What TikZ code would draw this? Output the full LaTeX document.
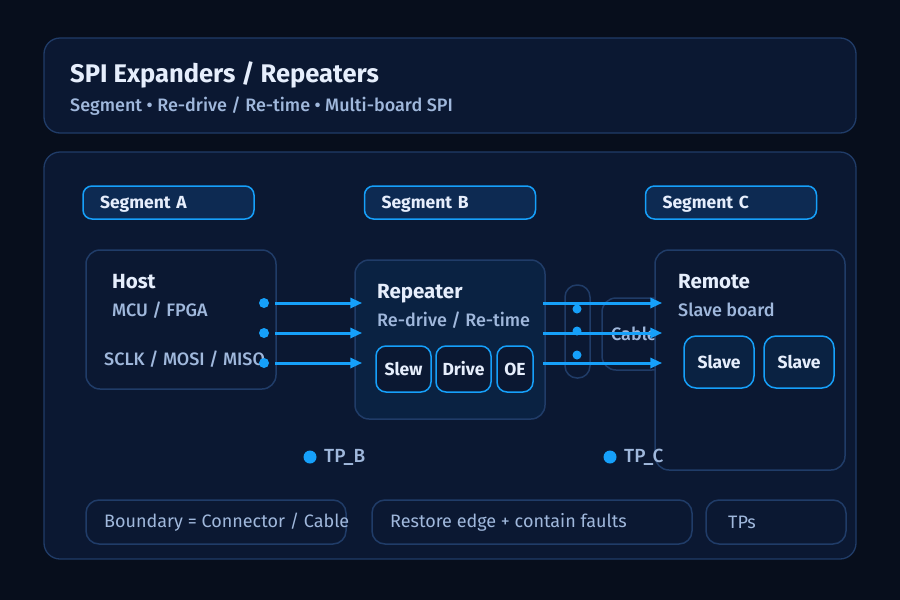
\documentclass[tikz,border=0pt]{standalone}
\usepackage{fontspec}
\setmainfont{Fira Sans}
\newfontfamily\medfont{Fira Sans Medium}
\usetikzlibrary{arrows.meta}
\definecolor{bg}{RGB}{7,14,28}
\definecolor{panel}{RGB}{11,24,50}
\definecolor{edge}{RGB}{32,60,104}
\definecolor{accent}{RGB}{22,160,250}
\definecolor{pillfill}{RGB}{13,42,82}
\definecolor{repfill}{RGB}{10,34,66}
\definecolor{txt}{RGB}{230,238,252}
\definecolor{muted}{RGB}{160,184,220}
\tikzset{
  panelbox/.style={draw=edge, line width=1.3pt, fill=panel, rounded corners=16pt, inner sep=0pt},
  box/.style={draw=edge, line width=1.5pt, fill=panel, rounded corners=14pt, inner sep=0pt},
  seg/.style={draw=accent, line width=1.5pt, fill=pillfill, rounded corners=9pt, inner xsep=17pt, inner ysep=0pt,
    minimum height=33pt, text width=137pt, text height=12.5pt, text depth=0pt, align=left, text=txt,
    font=\bfseries\fontsize{17.5}{20}\selectfont},
  chip/.style={draw=accent, line width=1.5pt, fill=panel, rounded corners=10pt, inner sep=0pt,
    text height=12.5pt, text depth=0pt, text=txt, font=\bfseries\fontsize{17.5}{20}\selectfont},
  lbl/.style={anchor=base west, inner sep=0pt},
  head/.style={lbl, text=txt, font=\bfseries\fontsize{20.5}{24}\selectfont},
  sub/.style={lbl, text=muted, font=\medfont\fontsize{18}{21}\selectfont},
  dot/.style={circle, fill=accent, inner sep=0pt, minimum size=10pt},
  arr/.style={draw=accent, line width=3pt, -{Triangle[length=12pt,width=10pt]}},
  foot/.style={draw=edge, line width=1.5pt, fill=panel, rounded corners=13pt, inner sep=0pt, minimum height=44pt},
  foottxt/.style={anchor=west, inner sep=0pt, text=muted, font=\fontsize{18}{21}\selectfont}
}
\begin{document}
\begin{tikzpicture}[x=1pt,y=-1pt]
\useasboundingbox (0,0) rectangle (900,600);
\fill[bg] (0,0) rectangle (900,600);

% title panel
\node[panelbox, minimum width=812pt, minimum height=95pt] (titlep) at (450,85.5) {};
\node[lbl, text=txt, font=\bfseries\fontsize{25.5}{30}\selectfont] (title) at (70,82) {SPI Expanders / Repeaters};
\node[lbl, text=muted, font=\medfont\fontsize{18}{21}\selectfont] (subtitle) at (70,111) {Segment • Re-drive / Re-time • Multi-board SPI};

% main panel
\node[panelbox, minimum width=812pt, minimum height=407pt] (mainp) at (450,355.5) {};

% segment pills
\node[seg] (segA) at (168.5,202.5) {Segment A};
\node[seg] (segB) at (450,202.5) {Segment B};
\node[seg] (segC) at (731,202.5) {Segment C};

% host
\node[box, minimum width=190pt, minimum height=139pt] (host) at (181,319.5) {};
\node[head] (hostT) at (112,288) {Host};
\node[sub] (hostS) at (112,316) {MCU / FPGA};
\node[sub] (hostL) at (104,365) {SCLK / MOSI / MISO};
\node[dot] (h1) at (264,303) {};
\node[dot] (h2) at (264,333) {};
\node[dot] (h3) at (264,363) {};

% repeater
\node[box, fill=repfill, minimum width=190pt, minimum height=159pt] (rep) at (450,339.5) {};
\node[head] (repT) at (377,298) {Repeater};
\node[sub] (repS) at (377,326) {Re-drive / Re-time};
\node[chip, minimum width=55pt, minimum height=46pt] (slew) at (403.5,369) {Slew};
\node[chip, minimum width=55pt, minimum height=46pt] (drive) at (463.5,369) {Drive};
\node[chip, minimum width=36pt, minimum height=46pt] (oe) at (515,369) {OE};

% connector and cable
\node[draw=edge, line width=1.5pt, rounded corners=12pt, minimum width=25pt, minimum height=93pt, inner sep=0pt] (conn) at (577.5,331.5) {};
\node[dot, minimum size=9pt] (c1) at (577,309) {};
\node[dot, minimum size=9pt] (c2) at (577,331) {};
\node[dot, minimum size=9pt] (c3) at (577,355) {};
\node[draw=edge, line width=1.5pt, rounded corners=14pt, minimum width=64pt, minimum height=72pt, inner sep=0pt,
  text=muted, font=\medfont\fontsize{18}{21}\selectfont] (cable) at (634,334) {Cable};

% remote
\node[box, minimum width=190pt, minimum height=220pt] (rem) at (750,360) {};
\node[head] (remT) at (678,288) {Remote};
\node[sub] (remS) at (678,316) {Slave board};
\node[chip, fill=repfill, rounded corners=12pt, minimum width=70pt, minimum height=52pt] (sl1) at (719,362) {Slave};
\node[chip, fill=repfill, rounded corners=12pt, minimum width=70pt, minimum height=52pt] (sl2) at (799,362) {Slave};

% arrows host -> repeater
\draw[arr] ([xshift=6pt]h1.east) -- ([xshift=8pt]rep.west |- h1);
\draw[arr] ([xshift=6pt]h2.east) -- ([xshift=8pt]rep.west |- h2);
\draw[arr] ([xshift=6pt]h3.east) -- ([xshift=8pt]rep.west |- h3);
% arrows repeater -> remote
\coordinate (r1) at (543,303);
\coordinate (r2) at (543,333);
\coordinate (r3) at (543,363);
\draw[arr] (r1) -- ([xshift=8pt]rem.west |- r1);
\draw[arr] (r2) -- ([xshift=8pt]rem.west |- r2);
\draw[arr] (r3) -- ([xshift=8pt]rem.west |- r3);

% test points
\node[dot, minimum size=13pt] (tpb) at (310,457) {};
\node[anchor=west, inner sep=0pt, text=muted, font=\medfont\fontsize{19}{22}\selectfont] (tpbT) at (324,457) {TP\_B};
\node[dot, minimum size=13pt] (tpc) at (610,457) {};
\node[anchor=west, inner sep=0pt, text=muted, font=\medfont\fontsize{19}{22}\selectfont] (tpcT) at (624,457) {TP\_C};

% footer pills
\node[foot, minimum width=260pt] (f1) at (216,522) {};
\node[foottxt] (f1T) at (104,522) {Boundary = Connector / Cable};
\node[foot, minimum width=320pt] (f2) at (532,522) {};
\node[foottxt] (f2T) at (390,522) {Restore edge + contain faults};
\node[foot, minimum width=140pt] (f3) at (776,522) {};
\node[foottxt] (f3T) at (728,522) {TPs};
\end{tikzpicture}
\end{document}
